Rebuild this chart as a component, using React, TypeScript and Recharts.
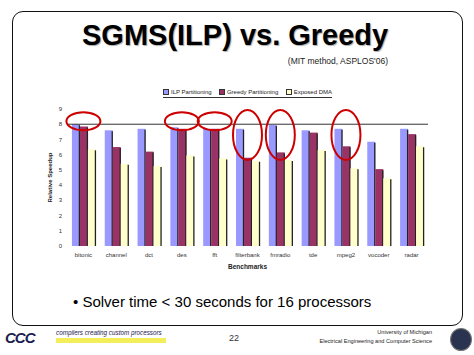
import React from "react";
import {
  BarChart,
  Bar,
  XAxis,
  YAxis,
  ReferenceLine,
  ReferenceDot,
} from "recharts";

const benchmarks = [
  "bitonic",
  "channel",
  "dct",
  "des",
  "fft",
  "filterbank",
  "fmradio",
  "tde",
  "mpeg2",
  "vocoder",
  "radar",
];
const ilpSpeedup = [8.0, 7.6, 7.7, 7.8, 7.7, 7.7, 7.95, 7.6, 7.7, 6.85, 7.7];
const greedySpeedup = [7.85, 6.5, 6.2, 7.7, 7.7, 5.8, 6.15, 7.45, 6.55, 5.05, 7.35];
const dmaSpeedup = [6.35, 5.4, 5.25, 5.95, 5.75, 5.6, 5.65, 6.3, 5.1, 4.45, 6.55];
const yTicks = [0, 1, 2, 3, 4, 5, 6, 7, 8, 9];

// red circles drawn on the slide
const circledWide = ["bitonic", "des", "fft"];
const circledTall = ["filterbank", "fmradio", "mpeg2"];
const wideCenter = 8.2;
const tallCenter = 7.3;

const data = benchmarks.map((name, i) => ({
  name,
  ilp: ilpSpeedup[i],
  greedy: greedySpeedup[i],
  dma: dmaSpeedup[i],
}));

const FONT = "'Liberation Sans', Arial, sans-serif";

const legendItems = [
  { label: "ILP Partitioning", color: "#9999FF" },
  { label: "Greedy Partitioning", color: "#993366" },
  { label: "Exposed DMA", color: "#FFFFCC" },
];

const EdgedBar = (props: any) => {
  const { x, y, width, height, fill } = props;
  if (!height || height <= 0) return null;
  return (
    <g>
      <rect x={x} y={y} width={width} height={height} fill={fill} />
      <line
        x1={x + width - 0.5}
        x2={x + width - 0.5}
        y1={y + 1}
        y2={y + height}
        stroke="#222"
        strokeWidth={1.3}
      />
    </g>
  );
};

const Ellipse = (rx: number, ry: number) => (props: any) => (
  <ellipse
    cx={props.cx}
    cy={props.cy}
    rx={rx}
    ry={ry}
    fill="none"
    stroke="#CC0000"
    strokeWidth={2}
  />
);

export default function App() {
  return (
    <div
      style={{
        position: "absolute",
        left: 0,
        top: 0,
        width: 474,
        height: 355,
        background: "#fff",
        fontFamily: FONT,
        overflow: "hidden",
      }}
    >
      {/* slide frame */}
      <div
        style={{
          position: "absolute",
          left: 12,
          top: 11,
          width: 449,
          height: 313,
          border: "1.5px solid #111",
          borderRadius: 11,
        }}
      />
      <div
        style={{
          position: "absolute",
          left: 82,
          top: 19,
          fontSize: 29,
          fontWeight: "bold",
          color: "#000",
          textShadow: "1px 1px 1px #aaa",
          whiteSpace: "nowrap",
        }}
      >
        SGMS(ILP) vs. Greedy
      </div>
      <div
        style={{
          position: "absolute",
          right: 86,
          top: 56,
          fontSize: 8.5,
          color: "#222",
          whiteSpace: "nowrap",
        }}
      >
        (MIT method, ASPLOS'06)
      </div>

      <div style={{ position: "absolute", left: 0, top: 0 }}>
        <BarChart
          width={474}
          height={355}
          data={data}
          margin={{ top: 109, right: 46, bottom: 79, left: 40 }}
          barCategoryGap="15%"
          barGap={0}
        >
          <XAxis
            dataKey="name"
            height={30}
            axisLine={false}
            tickLine={false}
            tickSize={0}
            tickMargin={7}
            interval={0}
            tick={{ fontSize: 6, fill: "#333", fontFamily: FONT }}
            label={{
              value: "Benchmarks",
              position: "insideBottom",
              offset: 7,
              style: { fontSize: 6.5, fontWeight: "bold", fill: "#222", fontFamily: FONT },
            }}
          />
          <YAxis
            width={27}
            domain={[0, 9]}
            ticks={yTicks}
            axisLine={false}
            tickLine={false}
            tickSize={0}
            tickMargin={5}
            tick={{ fontSize: 6, fill: "#333", fontFamily: FONT }}
            label={{
              value: "Relative Speedup",
              angle: -90,
              position: "insideLeft",
              offset: 10,
              style: {
                fontSize: 6,
                fontWeight: "bold",
                fill: "#222",
                fontFamily: FONT,
                textAnchor: "middle",
              },
            }}
          />
          <ReferenceLine y={8} stroke="#333" strokeWidth={1} />
          <Bar dataKey="ilp" fill="#9999FF" shape={EdgedBar} isAnimationActive={false} />
          <Bar dataKey="greedy" fill="#993366" shape={EdgedBar} isAnimationActive={false} />
          <Bar dataKey="dma" fill="#FFFFCC" shape={EdgedBar} isAnimationActive={false} />
          {circledWide.map((c) => (
            <ReferenceDot
              key={c}
              x={c}
              y={wideCenter}
              shape={Ellipse(17, 9)}
              ifOverflow="visible"
            />
          ))}
          {circledTall.map((c) => (
            <ReferenceDot
              key={c}
              x={c}
              y={tallCenter}
              shape={Ellipse(14.5, 25)}
              ifOverflow="visible"
            />
          ))}
        </BarChart>
      </div>

      {/* legend */}
      <div
        style={{
          position: "absolute",
          left: 163,
          top: 89,
          width: 169,
          borderBottom: "1px solid #333",
          paddingBottom: 2,
          display: "flex",
          justifyContent: "space-between",
          fontSize: 6,
          color: "#222",
          whiteSpace: "nowrap",
        }}
      >
        {legendItems.map((it) => (
          <span key={it.label} style={{ display: "flex", alignItems: "center" }}>
            <span
              style={{
                display: "inline-block",
                width: 4,
                height: 4,
                background: it.color,
                border: "0.8px solid #333",
                marginRight: 2,
              }}
            />
            {it.label}
          </span>
        ))}
      </div>

      <div
        style={{
          position: "absolute",
          left: 73,
          top: 293,
          fontSize: 15,
          color: "#000",
          whiteSpace: "nowrap",
        }}
      >
        • Solver time &lt; 30 seconds for 16 processors
      </div>

      {/* footer */}
      <div
        style={{
          position: "absolute",
          left: 5,
          top: 329,
          fontSize: 15,
          fontWeight: "bold",
          fontStyle: "italic",
          color: "#1a2050",
          letterSpacing: -1,
        }}
      >
        CCC
      </div>
      <div
        style={{
          position: "absolute",
          left: 56,
          top: 338,
          width: 110,
          height: 5,
          background: "#F4EE5A",
        }}
      />
      <div
        style={{
          position: "absolute",
          left: 56,
          top: 329,
          fontSize: 6.3,
          fontStyle: "italic",
          color: "#1a2050",
          whiteSpace: "nowrap",
        }}
      >
        compilers creating custom processors
      </div>
      <div
        style={{ position: "absolute", left: 229, top: 333, fontSize: 9, color: "#333" }}
      >
        22
      </div>
      <div
        style={{
          position: "absolute",
          right: 42,
          top: 328,
          fontSize: 5.6,
          color: "#222",
          textAlign: "right",
          lineHeight: "9px",
          whiteSpace: "nowrap",
        }}
      >
        University of Michigan
        <br />
        Electrical Engineering and Computer Science
      </div>
      <div
        style={{
          position: "absolute",
          left: 450,
          top: 328,
          width: 20,
          height: 21,
          borderRadius: "50%",
          background: "#2a3450",
          border: "1px solid #777",
        }}
      />
    </div>
  );
}
